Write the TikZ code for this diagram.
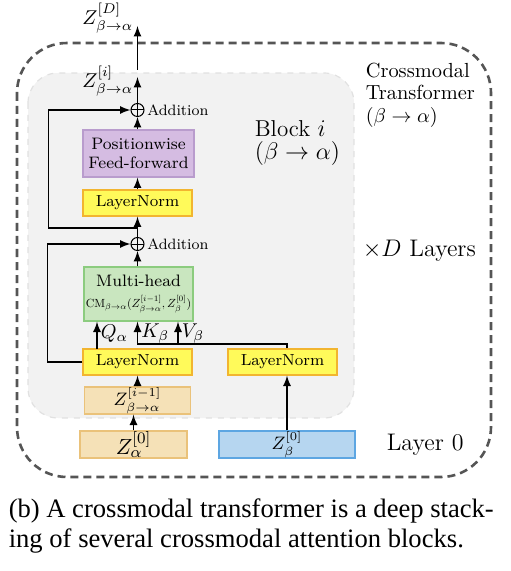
\documentclass[tikz,border=0pt]{standalone}
\usepackage{fontspec}
\usepackage{color}
\usepackage{tikz}
\usepackage{amssymb}
\newfontfamily\capfont{Liberation Serif}

\definecolor{lnfill}{HTML}{FFFA5A}
\definecolor{lnline}{HTML}{F2B530}
\definecolor{fffill}{HTML}{D5BCE2}
\definecolor{ffline}{HTML}{B99CCD}
\definecolor{mhfill}{HTML}{C9E6BF}
\definecolor{mhline}{HTML}{8CCC7F}
\definecolor{zafill}{HTML}{F5E1B7}
\definecolor{zaline}{HTML}{EAC27A}
\definecolor{zbfill}{HTML}{B6D6F0}
\definecolor{zbline}{HTML}{5DA6E2}
\definecolor{blockfill}{HTML}{F2F2F2}
\definecolor{blockline}{HTML}{E1E1E1}
\definecolor{outerline}{HTML}{555555}

\tikzset{
  box/.style={draw, line width=0.6pt, inner sep=0pt, align=center, font=\fontsize{8.3}{9.5}\selectfont},
  lnbox/.style={box, fill=lnfill, draw=lnline, minimum width=54.5pt, minimum height=13pt, font=\fontsize{8}{9.5}\selectfont},
  ffbox/.style={box, fill=fffill, draw=ffline, minimum width=55.5pt, minimum height=23.5pt},
  mhbox/.style={box, fill=mhfill, draw=mhline, minimum width=54.5pt, minimum height=27pt},
  zabox/.style={box, fill=zafill, draw=zaline, minimum width=53pt, minimum height=13.5pt, font=\fontsize{9}{10}\selectfont},
  zbbox/.style={box, fill=zbfill, draw=zbline, minimum width=68pt, minimum height=13.5pt, font=\fontsize{9}{10}\selectfont},
  addnode/.style={circle, draw, line width=0.5pt, minimum size=6.5pt, inner sep=0pt,
    path picture={\draw[line width=0.5pt] (path picture bounding box.north) -- (path picture bounding box.south)
      (path picture bounding box.west) -- (path picture bounding box.east);}},
  addtext/.style={anchor=west, inner sep=1pt, font=\fontsize{7.5}{9}\selectfont},
  mathlabel/.style={inner sep=1pt, font=\fontsize{10}{12}\selectfont},
  sidetext/.style={anchor=west, inner sep=0pt, font=\fontsize{12}{14}\selectfont}
}

\begin{document}
\begin{tikzpicture}[x=0.5pt, y=-0.5pt, >=latex, line width=0.8pt]
        \useasboundingbox (0,0) rectangle (510,571);

        \draw[outerline, line width=1.3pt, dash pattern=on 4pt off 2.5pt, rounded corners=25pt] (17,43) rectangle (491,477);
        \draw[blockline, fill=blockfill, dashed, line width=0.6pt, rounded corners=15pt] (28,73) rectangle (354,418);

        \node[zabox, minimum width=53.5pt, font=\fontsize{11}{12}\selectfont] (za0) at (133.5,444.5) {$Z^{[0]}_{\alpha}$};
        \node[zbbox] (zb0) at (287,444.5) {$Z^{[0]}_{\beta}$};
        \node[zabox] (zprev) at (137.5,400.5) {$Z^{[i-1]}_{\beta\rightarrow\alpha}$};
        \node[lnbox] (lnA) at (137.5,362) {LayerNorm};
        \node[lnbox] (lnB) at (282.5,362) {LayerNorm};
        \node[mhbox] (mha) at (138.5,294) {Multi-head\\[1pt]\scalebox{0.59}{\fontsize{10}{12}\selectfont$\mathrm{CM}_{\beta\rightarrow\alpha}(Z^{[i-1]}_{\beta\rightarrow\alpha}, Z^{[0]}_{\beta})$}};
        \node[addnode] (addA) at (137.5,244) {};
        \node[lnbox] (lnC) at (137.5,203) {LayerNorm};
        \node[ffbox] (ff) at (138.5,153.5) {Positionwise\\Feed-forward};
        \node[addnode] (addB) at (137.5,110) {};

        \node[addtext] (addAtxt) at (addA.east) {Addition};
        \node[addtext] (addBtxt) at (addB.east) {Addition};

        \coordinate (split) at (137.5,228);
        \coordinate (kv) at (137.5,344);
        \coordinate (vfoot) at (178,344);
        \coordinate (qfoot) at (97,349);
        \coordinate (ziTip) at (137.5,77);
        \coordinate (zDfoot) at (137.5,70);
        \coordinate (zDtip) at (137.5,26);

        \node[mathlabel, anchor=east] (zi) at (136,81) {$Z^{[i]}_{\beta\rightarrow\alpha}$};
        \node[mathlabel, anchor=east] (zD) at (136,18) {$Z^{[D]}_{\beta\rightarrow\alpha}$};
        \node[mathlabel, anchor=west] (qlab) at (98,334) {$Q_{\alpha}$};
        \node[mathlabel, anchor=west] (klab) at (138.5,334) {$K_{\beta}$};
        \node[mathlabel, anchor=west] (vlab) at (179,334) {$V_{\beta}$};

        \draw[->] (za0.north) -- (za0.north |- zprev.south);
        \path [->](zprev) edge (lnA);
        \draw[->] (qfoot) -- (qfoot |- mha.south);
        \draw[->] (zb0.north |- lnB.north) |- (kv) -- (kv |- mha.south);
        \draw[->] (vfoot) -- (vfoot |- mha.south);
        \draw[->] (zb0.north) -- (zb0.north |- lnB.south);
        \draw[->] (addA |- mha.north) -- (addA);
        \path [->](addA) edge (lnC);
        \path [->](lnC) edge (lnC |- ff.south);
        \draw[->] (addB |- ff.north) -- (addB);
        \path [->](addB) edge (ziTip);
        \path [->](zDfoot) edge (zDtip);
        \draw[->] (lnA.west) -- ++(-35,0) |- (addA.west);
        \draw[->] (split) -- ++(-89,0) |- (addB.west);

        \node[anchor=west, inner sep=0pt, font=\fontsize{11.5}{13}\selectfont] (block) at (254,129) {Block $i$};
        \node[anchor=west, inner sep=0pt, font=\fontsize{11.5}{13}\selectfont] (blockdir) at (254,154) {$(\beta\rightarrow\alpha)$};
        \node[anchor=west, align=left, inner sep=0pt, font=\fontsize{10.2}{11.25}\selectfont] (cmt) at (365,95) {Crossmodal\\Transformer\\$(\beta\rightarrow\alpha)$};
        \node[sidetext] (layers) at (362,251) {$\times D$ Layers};
        \node[sidetext] (layer0) at (386,445) {Layer 0};

        \node[anchor=base west, align=left, inner sep=0pt, font=\capfont\fontsize{13.3}{15}\selectfont] (caption) at (8,547) {\makebox[242.5pt][s]{(b) A crossmodal transformer is a deep stack-}\\ing of several crossmodal attention blocks.};
    \end{tikzpicture}
\end{document}
